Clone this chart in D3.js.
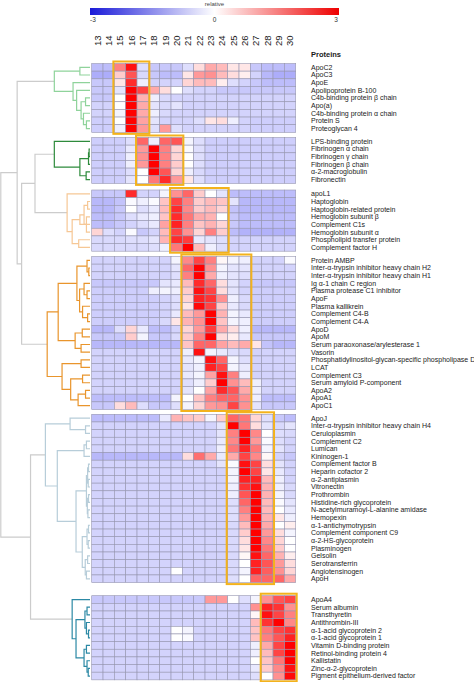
<!DOCTYPE html>
<html>
<head>
<meta charset="utf-8">
<script src="https://cdn.jsdelivr.net/npm/d3@7"></script>
<style>
  body { margin: 0; background: #fff; }
  svg { display: block; font-family: "Liberation Sans", Arial, sans-serif; }
</style>
</head>
<body>
<div id="chart"></div>
<script>
// fractions (columns)
const fractions = [13, 14, 15, 16, 17, 18, 19, 20, 21, 22, 23, 24, 25, 26, 27, 28, 29, 30];

// proteins per cluster, top to bottom
const groupSizes = [9, 6, 8, 20, 22, 11];
const proteins = [
  "ApoC2", "ApoC3", "ApoE", "Apolipoprotein B-100", "C4b-binding protein β chain", "Apo(a)",
  "C4b-binding protein α chain", "Protein S", "Proteoglycan 4",
  "LPS-binding protein", "Fibrinogen α chain", "Fibrinogen γ chain", "Fibrinogen β chain",
  "α-2-macroglobulin", "Fibronectin",
  "apoL1", "Haptoglobin", "Haptoglobin-related protein", "Hemoglobin subunit β", "Complement C1s",
  "Hemoglobin subunit α", "Phospholipid transfer protein", "Complement factor H",
  "Protein AMBP", "Inter-α-trypsin inhibitor heavy chain H2", "Inter-α-trypsin inhibitor heavy chain H1",
  "Ig α-1 chain C region", "Plasma protease C1 inhibitor", "ApoF", "Plasma kallikrein",
  "Complement C4-B", "Complement C4-A", "ApoD", "ApoM", "Serum paraoxonase/arylesterase 1",
  "Vasorin", "Phosphatidylinositol-glycan-specific phospholipase D", "LCAT", "Complement C3",
  "Serum amyloid P-component", "ApoA2", "ApoA1", "ApoC1",
  "ApoJ", "Inter-α-trypsin inhibitor heavy chain H4", "Ceruloplasmin", "Complement C2", "Lumican",
  "Kininogen-1", "Complement factor B", "Heparin cofactor 2", "α-2-antiplasmin", "Vitronectin",
  "Prothrombin", "Histidine-rich glycoprotein", "N-acetylmuramoyl-L-alanine amidase", "Hemopexin",
  "α-1-antichymotrypsin", "Complement component C9", "α-2-HS-glycoprotein", "Plasminogen",
  "Gelsolin", "Serotransferrin", "Angiotensinogen", "ApoH",
  "ApoA4", "Serum albumin", "Transthyretin", "Antithrombin-III", "α-1-acid glycoprotein 2",
  "α-1-acid glycoprotein 1", "Vitamin D-binding protein", "Retinol-binding protein 4",
  "Kallistatin", "Zinc-α-2-glycoprotein", "Pigment epithelium-derived factor"
];

// relative abundance (z-score), one row per protein, one value per fraction
const values = [
  [-1.2,-1.2,1.5,2.8,-0.6,-1.0,-1.0,-1.0,-0.6,0.4,1.0,0.8,0.3,0.3,-1.0,-1.2,-1.2,-1.2],
  [-1.5,-1.5,0.6,2.0,-0.7,-1.0,-1.2,-1.2,0.3,1.2,1.3,0.8,0.4,0.2,-0.8,-1.3,-1.5,-1.5],
  [-1.0,-1.0,0.3,2.5,-0.3,-0.8,-0.8,-0.8,0.5,0.8,0.8,0.2,-0.6,-0.8,-1.0,-1.2,-1.2,-1.2],
  [-1.0,-1.0,-0.5,3.0,2.2,1.0,0.4,0.0,-0.6,-0.8,-0.8,-1.0,-1.0,-1.0,-1.0,-1.0,-1.0,-1.0],
  [-1.0,-1.0,0.0,3.0,0.9,-0.3,-0.7,-0.8,-0.8,-0.8,-0.8,-0.8,-0.8,-0.8,-0.8,-0.8,-0.8,-0.8],
  [-0.8,-0.8,0.0,3.0,1.0,-0.5,-0.7,-0.5,-0.8,-0.8,-0.8,-0.8,-0.8,-0.8,-0.8,-0.8,-0.8,-0.8],
  [-0.8,-0.8,-0.2,3.0,1.0,-0.3,-0.7,-0.8,-0.8,-0.8,-0.8,-0.8,-0.8,-0.8,-0.8,-0.8,-0.8,-0.8],
  [-0.9,-0.9,0.0,3.0,1.1,-0.5,-0.8,-0.8,-0.8,-0.6,0.3,0.4,-0.3,-0.8,-0.9,-0.9,-0.9,-0.9],
  [-0.9,-0.9,-0.3,3.0,1.2,-0.6,1.2,-0.6,-0.8,-0.8,-0.8,-0.8,-0.8,-0.8,-0.9,-0.9,-0.9,-0.9],

  [-0.9,-0.9,-0.9,-0.6,1.8,-0.3,1.8,2.0,-0.2,-0.6,-0.9,-0.9,-0.9,-0.9,-0.9,-0.9,-0.9,-0.9],
  [-0.9,-0.9,-0.9,-0.4,1.2,3.0,1.5,0.5,-0.1,-0.6,-0.9,-0.9,-0.9,-0.9,-0.9,-0.9,-0.9,-0.9],
  [-0.9,-0.9,-0.9,-0.3,1.3,3.0,1.5,0.5,0.0,-0.6,-0.9,-0.9,-0.9,-0.9,-0.9,-0.9,-0.9,-0.9],
  [-0.9,-0.9,-0.9,-0.3,1.2,3.0,1.5,0.6,0.0,-0.6,-0.9,-0.9,-0.9,-0.9,-0.9,-0.9,-0.9,-0.9],
  [-0.9,-0.9,-0.9,-0.6,0.0,3.0,2.0,0.5,-0.3,-0.7,-0.9,-0.9,-0.9,-0.9,-0.9,-0.9,-0.9,-0.9],
  [-0.9,-0.9,-0.9,-0.5,0.0,1.6,2.5,1.2,0.3,-0.6,-0.9,-0.9,-0.9,-0.9,-0.9,-0.9,-0.9,-0.9],

  [-1.0,-1.0,-1.0,2.5,-0.8,-0.8,-0.2,1.3,1.8,0.6,0.0,-0.5,-1.2,-1.2,-1.2,-1.2,-1.2,-1.2],
  [-1.3,-1.3,-1.1,-0.1,-0.3,-0.1,0.7,2.2,1.5,0.6,0.8,0.7,-0.5,-1.3,-1.3,-1.3,-1.3,-1.3],
  [-1.3,-1.3,-1.0,0.0,-0.6,-0.4,0.8,2.5,1.4,0.6,0.8,0.5,-1.1,-1.3,-1.3,-1.3,-1.3,-1.3],
  [-1.2,-1.2,-1.0,-0.6,-0.4,-0.3,0.7,2.5,1.6,1.0,0.9,0.0,-1.0,-1.2,-1.2,-1.2,-1.2,-1.2],
  [-1.2,-1.2,-1.0,-0.8,-0.6,-0.4,1.1,2.6,1.5,0.7,0.9,0.5,-1.0,-1.2,-1.2,-1.2,-1.2,-1.2],
  [0.5,-0.6,-0.8,-0.1,-1.0,-0.8,0.8,2.2,1.3,0.5,1.5,0.6,-1.2,-1.4,-1.4,-1.4,-1.4,-1.4],
  [-0.7,-0.7,-0.7,-0.6,-0.6,-0.5,0.9,2.5,2.3,-0.4,-0.5,-0.6,-0.8,-0.8,-0.8,-0.8,-0.8,-0.8],
  [-0.7,-0.7,-0.7,-0.7,-0.7,-0.6,-0.3,1.6,3.0,0.8,-0.3,-0.6,-0.8,-0.8,-0.8,-0.8,-0.8,-0.8],

  [-0.8,-0.8,-0.8,-0.8,-0.8,-0.8,-0.8,-0.2,1.4,2.2,1.5,0.1,-0.2,-0.3,-0.8,-0.8,-0.8,-0.1],
  [-0.8,-0.8,-0.8,-0.8,-0.8,-0.8,-0.8,-0.5,1.8,3.0,1.3,-0.2,-0.5,-0.5,-0.8,-0.8,-0.8,-0.8],
  [-0.8,-0.8,-0.8,-0.8,-0.8,-0.8,-0.8,-0.6,1.5,3.0,1.0,-0.3,-0.5,-0.6,-0.8,-0.8,-0.8,-0.8],
  [-1.0,-1.0,-1.0,-1.0,-1.0,-1.0,-0.5,-0.4,0.8,2.5,1.8,0.4,-0.5,-0.8,-1.0,-1.0,-1.0,-1.0],
  [-0.9,-0.9,-0.9,-0.9,-0.9,-0.3,-0.2,-0.3,0.6,2.8,2.2,0.4,-0.5,-0.8,-0.9,-0.9,-0.9,-0.9],
  [-0.9,-0.9,-0.9,-0.9,-0.9,-0.9,-0.8,-0.6,0.5,2.6,2.4,1.3,-0.3,-0.7,-0.9,-0.9,-0.9,-0.9],
  [-0.9,-0.9,-0.9,-0.9,-0.9,-0.9,-0.8,-0.6,0.3,2.9,2.2,0.6,-0.4,-0.7,-0.9,-0.9,-0.9,-0.9],
  [-0.9,-0.9,-0.9,-0.9,-0.9,-0.9,-0.8,-0.4,0.8,1.2,3.0,0.9,-0.2,-0.4,-0.9,-0.9,-0.9,-0.9],
  [-0.9,-0.9,-0.9,-0.9,-0.9,-0.9,-0.7,0.3,0.9,1.3,3.0,0.7,-0.2,-0.3,-0.9,-0.9,-0.9,-0.9],
  [-1.3,-1.3,-0.6,0.5,-0.4,-1.2,-1.2,-0.8,0.5,1.2,2.3,1.0,0.4,-0.3,-1.3,-1.3,-1.3,-1.3],
  [-1.0,-1.0,-1.0,0.6,-0.2,-1.0,-1.0,-0.7,0.6,1.5,3.0,0.4,0.2,-0.4,-1.0,-1.0,-1.0,-1.0],
  [-1.3,-1.3,-1.3,-1.3,-1.3,-1.3,-1.3,-1.3,0.7,1.8,1.8,1.1,0.8,1.0,0.3,-1.1,-1.3,-1.3],
  [-0.8,-0.8,-0.8,-0.8,-0.8,-0.8,-0.8,-0.8,-0.3,2.8,-0.2,-0.4,-0.6,-0.7,-0.8,-0.8,-0.8,-0.8],
  [-0.8,-0.8,-0.8,-0.8,-0.8,-0.8,-0.8,-0.8,-0.4,-0.2,2.8,1.8,-0.2,-0.6,-0.8,-0.8,-0.8,-0.8],
  [-0.8,-0.8,-0.8,-0.8,-0.8,-0.8,-0.8,-0.8,-0.5,-0.3,2.6,2.2,-0.2,-0.4,-0.8,-0.8,-0.8,-0.8],
  [-0.8,-0.8,-0.8,-0.8,-0.8,-0.8,-0.8,-0.8,-0.4,-0.2,1.1,2.8,1.5,-0.3,-0.8,-0.8,-0.8,-0.8],
  [-0.8,-0.8,-0.8,-0.8,-0.8,-0.8,-0.8,-0.8,-0.6,-0.3,0.6,3.0,1.3,0.8,-0.3,-0.8,-0.8,-0.8],
  [-0.8,-0.8,-0.8,-0.8,-0.8,-0.8,-0.8,-0.8,-0.5,0.0,1.1,2.5,2.0,1.0,-0.3,-0.8,-0.8,-0.8],
  [-1.2,-1.2,-1.2,-1.2,-1.2,-1.2,-1.2,-0.2,0.0,0.7,1.5,1.8,1.8,1.3,-0.3,-1.2,-1.2,-1.2],
  [-1.0,-1.0,0.4,0.8,-0.6,-1.0,-1.0,-0.6,-0.2,0.5,1.2,1.3,2.2,1.3,-0.5,-1.0,-1.0,-1.0],

  [-1.2,-1.2,-1.2,-1.2,-1.2,-1.2,-0.4,0.9,0.7,0.6,-0.2,0.6,1.8,1.6,0.5,-0.6,-1.0,-1.2],
  [-0.8,-0.8,-0.8,-0.8,-0.8,-0.8,-0.8,-0.8,-0.8,-0.8,-0.8,-0.5,3.0,1.6,0.4,-0.5,-0.7,-0.5],
  [-0.8,-0.8,-0.8,-0.8,-0.8,-0.8,-0.8,-0.8,-0.8,-0.8,-0.8,-0.5,1.5,3.0,1.4,0.0,-0.6,-0.7],
  [-0.8,-0.8,-0.8,-0.8,-0.8,-0.8,-0.8,-0.8,-0.8,-0.8,-0.8,-0.4,1.4,3.0,1.2,-0.1,-0.6,-0.8],
  [-0.8,-0.8,-0.8,-0.8,-0.8,-0.8,-0.8,-0.8,-0.8,-0.8,-0.8,-0.3,1.6,2.6,1.6,-0.2,-0.5,-0.8],
  [-1.3,-1.3,-1.3,-1.3,-1.3,-1.3,-1.3,-1.3,0.4,1.7,1.0,-0.4,1.0,2.2,1.4,0.1,-0.8,-1.0],
  [-0.8,-0.8,-0.8,-0.8,-0.8,-0.8,-0.8,-0.8,-0.8,-0.8,-0.8,-0.5,-0.1,2.8,2.2,0.4,-0.5,-0.8],
  [-0.8,-0.8,-0.8,-0.8,-0.8,-0.8,-0.8,-0.8,-0.8,-0.8,-0.8,-0.8,-0.2,3.0,2.2,0.3,-0.4,-0.8],
  [-0.8,-0.8,-0.8,-0.8,-0.8,-0.8,-0.8,-0.8,-0.8,-0.8,-0.8,-0.8,-0.2,2.6,2.6,0.8,-0.3,-0.8],
  [-0.8,-0.8,-0.8,-0.8,-0.8,-0.8,-0.8,-0.8,-0.8,-0.8,-0.8,-0.8,-0.3,2.4,2.8,0.9,-0.3,-0.7],
  [-0.8,-0.8,-0.8,-0.8,-0.8,-0.8,-0.8,-0.8,-0.8,-0.8,-0.8,-0.8,-0.3,2.0,3.0,0.9,-0.2,-0.7],
  [-0.8,-0.8,-0.8,-0.8,-0.8,-0.8,-0.8,-0.8,-0.8,-0.8,-0.8,-0.8,-0.6,1.8,3.0,0.8,-0.1,-0.5],
  [-0.8,-0.8,-0.8,-0.8,-0.8,-0.8,-0.8,-0.8,-0.8,-0.8,-0.8,-0.8,-0.6,1.5,3.0,0.8,0.0,-0.4],
  [-0.8,-0.8,-0.8,-0.8,-0.8,-0.8,-0.8,-0.8,-0.8,-0.8,-0.8,-0.8,-0.6,1.2,3.0,0.9,0.3,-0.3],
  [-0.8,-0.8,-0.8,-0.8,-0.8,-0.8,-0.8,-0.8,-0.8,-0.8,-0.8,-0.8,-0.7,0.8,3.0,1.0,0.0,0.2],
  [-0.8,-0.8,-0.8,-0.8,-0.8,-0.8,-0.8,-0.8,-0.8,-0.8,-0.8,-0.8,-0.7,0.6,3.0,1.2,0.4,-0.2],
  [-0.8,-0.8,-0.8,-0.8,-0.8,-0.8,-0.8,-0.8,-0.8,-0.8,-0.8,-0.8,-0.7,0.4,3.0,1.4,0.5,0.0],
  [-0.8,-0.8,-0.8,-0.8,-0.8,-0.8,-0.8,-0.8,-0.8,-0.8,-0.8,-0.8,-0.7,0.3,3.0,1.6,0.6,0.0],
  [-0.8,-0.8,-0.8,-0.8,-0.8,-0.8,-0.8,-0.8,-0.8,-0.8,-0.8,-0.8,-0.7,0.1,2.8,1.8,0.9,0.2],
  [-0.8,-0.8,-0.8,-0.8,-0.8,-0.8,-0.8,-0.8,-0.8,-0.8,-0.8,-0.8,-0.7,0.0,2.6,2.0,1.2,0.4],
  [-0.8,-0.8,-0.8,-0.8,-0.8,-0.8,-0.8,0.0,-0.8,-0.8,-0.8,-0.8,-0.7,-0.2,2.6,1.9,1.3,0.5],
  [-0.8,-0.8,-0.8,-0.8,-0.8,-0.8,-0.8,-0.8,-0.8,-0.8,-0.8,-0.8,-0.6,0.0,1.8,1.8,1.8,1.0],

  [-1.0,-1.0,-1.0,-1.0,-1.0,-1.0,-1.0,-1.0,-1.0,-1.0,1.2,1.2,0.0,-0.6,-0.2,1.3,2.0,2.2],
  [-0.8,-0.8,-0.8,-0.8,-0.8,-0.8,-0.8,-0.8,-0.8,-0.8,-0.8,-0.8,-0.8,-0.8,1.3,2.6,2.4,1.3],
  [-0.8,-0.8,-0.8,-0.8,-0.8,-0.8,-0.8,-0.8,-0.8,-0.8,-0.8,-0.8,-0.8,-0.8,0.1,2.8,2.2,1.5],
  [-0.8,-0.8,-0.8,-0.8,-0.8,-0.8,-0.8,-0.8,-0.8,-0.8,-0.8,-0.8,-0.8,-0.8,0.8,2.4,3.0,1.4],
  [-0.8,-0.8,-0.8,-0.8,-0.8,-0.8,-0.8,0.0,-0.2,-0.8,-0.8,-0.8,-0.8,-0.8,0.7,1.6,2.2,2.4],
  [-0.8,-0.8,-0.8,-0.8,-0.8,-0.8,-0.8,0.0,-0.1,-0.8,-0.8,-0.8,-0.8,-0.8,0.7,1.5,2.0,2.6],
  [-0.8,-0.8,-0.8,-0.8,-0.8,-0.8,-0.8,-0.8,-0.8,-0.8,-0.8,-0.8,-0.8,-0.8,-0.3,1.0,2.2,3.0],
  [-0.8,-0.8,-0.8,-0.8,-0.8,-0.8,-0.8,-0.8,-0.8,-0.8,-0.8,-0.8,-0.8,-0.8,-0.3,0.8,2.2,3.0],
  [-0.8,-0.8,-0.8,-0.8,-0.8,-0.8,-0.8,-0.8,-0.8,-0.8,-0.8,-0.8,-0.8,-0.8,0.0,0.7,1.6,3.0],
  [-0.8,-0.8,-0.8,-0.8,-0.8,-0.8,-0.8,-0.8,-0.8,-0.8,-0.8,-0.8,-0.8,-0.8,-0.4,0.6,1.4,2.8],
  [-0.8,-0.8,-0.8,-0.8,-0.8,-0.8,-0.8,-0.8,-0.8,-0.8,-0.8,-0.8,-0.8,-0.8,-0.6,0.0,1.3,2.9]
];

// highlighted fraction range per cluster
const boxes = [[15, 17], [17, 20], [20, 24], [21, 26], [25, 28], [28, 30]];

// dendrogram per cluster: [height, left, right], leaves = row index in cluster
const trees = [
  [12, [3.4, 0, 1], [5.7, 2, [4.5, 3, [3, [1.5, 4, 5], [2.2, 6, [1.2, 7, 8]]]]]],
  [12, 0, [3.4, [0.5, [0.3, 1, 2], 3], [1.3, 4, 5]]],
  [7.7, 0, [6, [3.4, [2, [0.8, 1, 2], [1.2, 3, 5]], 4], [3.8, 6, 7]]],
  [14.4,
    [10.7,
      [4.4, [1.0, [0.4, 1, 2], 0], [3.5, [2, 3, [1, 4, 5]], [2.5, 6, [0.8, 7, 8]]]],
      [5, [2.6, 9, 10], [3, 11, 12]]],
    [9.4, [3, 13, 14], [6.5, [2.5, 15, 16], [4, [1.5, 17, 18], 19]]]],
  [15, [6.7, 0, [1.5, 1, 2]],
    [11, [2, [1.2, 3, 4], 5],
      [4.7,
        [1.2, [0.8, [0.5, 6, 7], [0.6, 8, 9]], [0.9, [0.5, 10, 11], [0.7, 12, 13]]],
        [2.6, [1, [0.5, 14, 15], [0.6, 16, 17]], [1.6, [0.8, 18, 19], [1.2, 20, 21]]]]]],
  [6, 0, [4.7, [1.7, [1, 1, 2], [1.2, 3, [0.5, 4, 5]]], [2, [1.2, 6, 7], [1, 8, [0.6, 9, 10]]]]]
];
// how the clusters join (leaves = cluster index)
const topTree = [30, [24.5, 0, [23, [18.5, 1, 2], 3]], [20, 4, 5]];

const groupColors = ["#8fd39b", "#2e8b3c", "#f6c795", "#e9952c", "#b7cdd9", "#2c89a5"];

// layout
const width = 474, height = 682;
const rowH = 7.65;
const groupTop = [63.5, 137.5, 190, 256.5, 414.3, 595.7];

const svg = d3.select("#chart").append("svg")
  .attr("width", width)
  .attr("height", height);

const x = d3.scaleBand().domain(fractions).range([91.7, 295.7]);
const color = d3.scaleLinear().domain([-3, 0, 3]).range(["#5a5af4", "#ffffff", "#ff0000"]);

const starts = [0].concat(Array.from(d3.cumsum(groupSizes)));
const yScales = groupSizes.map((n, g) =>
  d3.scaleBand().domain(d3.range(n)).range([groupTop[g], groupTop[g] + n * rowH]));

// colour key
const defs = svg.append("defs");
const grad = defs.append("linearGradient").attr("id", "key");
[["0%", "#1a1ad8"], ["50%", "#ffffff"], ["100%", "#ee0000"]].forEach(s =>
  grad.append("stop").attr("offset", s[0]).attr("stop-color", s[1]));
svg.append("rect")
  .attr("x", 90).attr("y", 8).attr("width", 249).attr("height", 7)
  .attr("fill", "url(#key)");
svg.append("text")
  .attr("x", 214.5).attr("y", 5.5)
  .attr("text-anchor", "middle")
  .attr("font-size", 6).attr("fill", "#444")
  .text("relative");
const keyX = d3.scaleLinear().domain([-3, 3]).range([93, 336]);
svg.selectAll(".keytick")
  .data([-3, 0, 3])
  .enter().append("text")
  .attr("x", d => keyX(d)).attr("y", 22)
  .attr("text-anchor", "middle")
  .attr("font-size", 6.5).attr("fill", "#333")
  .text(d => d);

// column labels
svg.selectAll(".col")
  .data(fractions)
  .enter().append("text")
  .attr("transform", d => "translate(" + (x(d) + x.bandwidth() / 2) + ",46) rotate(-90)")
  .attr("dy", "0.35em")
  .attr("font-size", 9.5).attr("fill", "#1a1a1a")
  .text(d => d);

svg.append("text")
  .attr("x", 311).attr("y", 57)
  .attr("font-size", 7.5).attr("font-weight", "bold").attr("fill", "#1a1a1a")
  .text("Proteins");

// heatmap blocks
groupSizes.forEach((n, g) => {
  const y = yScales[g];
  const rows = d3.range(n).map(i => ({ i: i, name: proteins[starts[g] + i], vals: values[starts[g] + i] }));
  const block = svg.append("g");

  block.selectAll("g")
    .data(rows)
    .enter().append("g")
    .selectAll("rect")
    .data(r => r.vals.map((v, j) => ({ i: r.i, f: fractions[j], v: v })))
    .enter().append("rect")
    .attr("x", d => x(d.f))
    .attr("y", d => y(d.i))
    .attr("width", x.bandwidth())
    .attr("height", y.bandwidth())
    .attr("fill", d => color(d.v))
    .attr("stroke", "#9696b0")
    .attr("stroke-width", 0.6);

  block.selectAll("text")
    .data(rows)
    .enter().append("text")
    .attr("x", 311)
    .attr("y", d => y(d.i) + y.bandwidth() / 2)
    .attr("dy", "0.35em")
    .attr("font-size", 7).attr("fill", "#1a1a1a")
    .text(d => d.name);
});

// highlight boxes
svg.selectAll(".box")
  .data(boxes)
  .enter().append("rect")
  .attr("x", d => x(d[0]) - 1)
  .attr("y", (d, g) => groupTop[g] - 2)
  .attr("width", d => x(d[1]) + x.bandwidth() - x(d[0]) + 2)
  .attr("height", (d, g) => groupSizes[g] * rowH + 3.5)
  .attr("fill", "none")
  .attr("stroke", "#f3b21c")
  .attr("stroke-width", 2);

// dendrogram
const hx = d3.scaleLinear().domain([0, 30]).range([90, 0.8]);

function build(node, g) {
  if (typeof node === "number") {
    return { h: 0, y: yScales[g](node) + rowH / 2, g: g };
  }
  const a = build(node[1], g), b = build(node[2], g);
  return { h: node[0], y: (a.y + b.y) / 2, g: g, kids: [a, b] };
}
function buildTop(node) {
  if (typeof node === "number") return build(trees[node], node);
  const a = buildTop(node[1]), b = buildTop(node[2]);
  return { h: node[0], y: (a.y + b.y) / 2, g: -1, kids: [a, b] };
}

const root = d3.hierarchy(buildTop(topTree), d => d.kids);
const links = root.descendants().filter(d => d.children);

svg.append("g")
  .selectAll("path")
  .data(links)
  .enter().append("path")
  .attr("d", d => {
    const a = d.children[0].data, b = d.children[1].data, n = d.data;
    return "M" + hx(a.h) + "," + a.y + "H" + hx(n.h) + "V" + b.y + "H" + hx(b.h);
  })
  .attr("fill", "none")
  .attr("stroke", d => d.data.g < 0 ? "#cccccc" : groupColors[d.data.g])
  .attr("stroke-width", 1.2);
</script>
</body>
</html>
